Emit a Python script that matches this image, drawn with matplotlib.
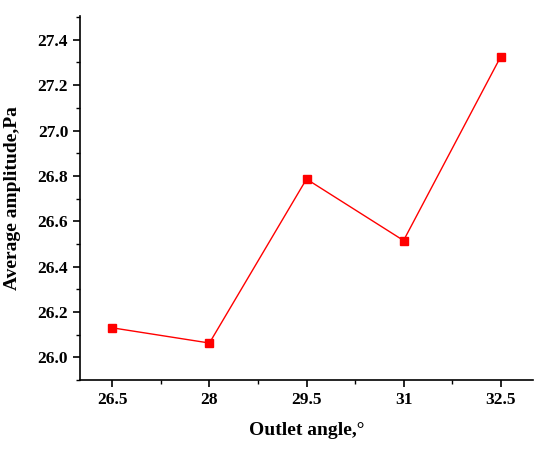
import numpy as np
import matplotlib
matplotlib.use("Agg")
import matplotlib.pyplot as plt
from matplotlib.ticker import MultipleLocator, FixedLocator

angles = [26.5, 28, 29.5, 31, 32.5]
amplitude = [26.13, 26.063, 26.786, 26.515, 27.325]
xtick_labels = ["26.5", "28", "29.5", "31", "32.5"]
x_minor = [27.25, 28.75, 30.25, 31.75]

plt.rcParams["font.family"] = ["Liberation Serif", "DejaVu Serif"]
plt.rcParams["font.weight"] = "bold"

fig = plt.figure(figsize=(5.5, 4.53), dpi=100)
ax = fig.add_axes([80 / 550, 1 - 380 / 453, (533 - 80) / 550, (380 - 16) / 453])

ax.plot(angles, amplitude, color="red", linewidth=1.0, marker="s",
        markersize=5.5, markerfacecolor="red", markeredgecolor="red")

ax.set_xlim(26.0, 33.0)
ax.set_ylim(25.9, 27.505)
ax.set_xticks(angles)
ax.set_xticklabels(xtick_labels)
ax.xaxis.set_minor_locator(FixedLocator(x_minor))
ax.yaxis.set_major_locator(MultipleLocator(0.2))
ax.yaxis.set_minor_locator(MultipleLocator(0.1))

for s in ["top", "right"]:
    ax.spines[s].set_visible(False)
for s in ["left", "bottom"]:
    ax.spines[s].set_linewidth(1.2)

ax.tick_params(which="major", direction="out", length=5, width=1.2, labelsize=12.5)
ax.tick_params(which="minor", direction="out", length=3, width=1.0)
for lbl in ax.get_xticklabels() + ax.get_yticklabels():
    lbl.set_fontweight("bold")

ax.set_xlabel("Outlet angle,°", fontsize=14, fontweight="bold", labelpad=10)
ax.set_ylabel("Average amplitude,Pa", fontsize=14, fontweight="bold", labelpad=12)

fig.savefig("out.png", dpi=100)
